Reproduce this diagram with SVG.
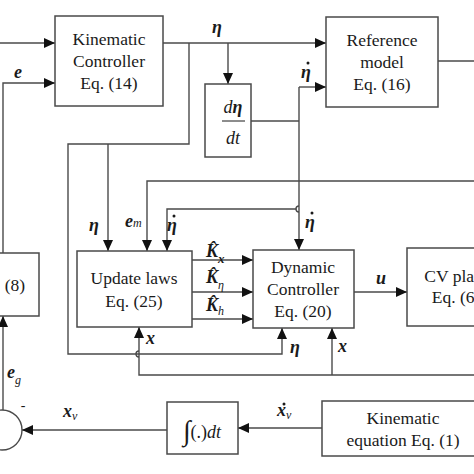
<svg xmlns="http://www.w3.org/2000/svg" width="474" height="474" viewBox="0 0 474 474">
<style>
text{font-family:"Liberation Serif","Times New Roman","DejaVu Serif",serif;fill:#1a1a1a}
.box{fill:#fff;stroke:#4a4a4a;stroke-width:1.5}
.ln{fill:none;stroke:#4a4a4a;stroke-width:1.4}
.t{font-size:17.5px;text-anchor:middle}
.m{font-size:18px;font-weight:bold;font-style:italic}
.s{font-size:12px;font-style:italic;font-weight:normal}
.sb{font-size:13px;font-style:italic;font-weight:bold}
.dot{fill:#1a1a1a}
</style>
<defs>
<marker id="ar" markerUnits="userSpaceOnUse" markerWidth="12" markerHeight="10" refX="11" refY="5" orient="auto">
<path d="M0,0 L11,5 L0,10 z" fill="#111"/>
</marker>
</defs>
<g id="connectors">
<path class="ln" d="M0,43 H55" marker-end="url(#ar)"/>
<path class="ln" d="M3,253 V83 H55" marker-end="url(#ar)"/>
<path class="ln" d="M163,43 H326" marker-end="url(#ar)"/>
<path class="ln" d="M228,43 V84" marker-end="url(#ar)"/>
<path class="ln" d="M189,43 V144 H68 V354 H282 V328" marker-end="url(#ar)"/>
<path class="ln" d="M108,144 V251" marker-end="url(#ar)"/>
<path class="ln" d="M251,121 H299"/>
<path class="ln" d="M299,87 H326" marker-end="url(#ar)"/>
<path class="ln" d="M299,87 V250" marker-end="url(#ar)"/>
<path class="ln" d="M474,181 H147 V251" marker-end="url(#ar)"/>
<path class="ln" d="M296,209 H167 V251" marker-end="url(#ar)"/>
<path class="ln" d="M299,206 A3,3 0 0 0 299,212"/>
<path class="ln" d="M192,260 H253" marker-end="url(#ar)"/>
<path class="ln" d="M192,292 H253" marker-end="url(#ar)"/>
<path class="ln" d="M192,319 H253" marker-end="url(#ar)"/>
<path class="ln" d="M354,292 H407" marker-end="url(#ar)"/>
<path class="ln" d="M474,375 H139 V327" marker-end="url(#ar)"/>
<path class="ln" d="M139,351 A3,3 0 0 0 139,357"/>
<path class="ln" d="M332,375 V328" marker-end="url(#ar)"/>
<path class="ln" d="M438,61 H474"/>
<path class="ln" d="M3,410 V316" marker-end="url(#ar)"/>
<path class="ln" d="M167,430 H22" marker-end="url(#ar)"/>
<path class="ln" d="M322,428 H238" marker-end="url(#ar)"/>
</g>
<g id="kinematic-controller">
<rect class="box" x="55" y="16" width="108" height="90"/>
<text class="t" x="109" y="45">Kinematic</text>
<text class="t" x="109" y="67">Controller</text>
<text class="t" x="109" y="89">Eq. (14)</text>
</g>
<g id="reference-model">
<rect class="box" x="326" y="17" width="112" height="90"/>
<text class="t" x="382" y="46">Reference</text>
<text class="t" x="382" y="68">model</text>
<text class="t" x="382" y="90">Eq. (16)</text>
</g>
<g id="derivative">
<rect class="box" x="205" y="84" width="46" height="73"/>
<text x="233" y="113" style="font-size:18px;font-style:italic;text-anchor:middle">d<tspan font-weight="bold">η</tspan></text>
<line x1="222" y1="121" x2="245" y2="121" stroke="#1a1a1a" stroke-width="1"/>
<text x="233" y="144" style="font-size:18px;font-style:italic;text-anchor:middle">dt</text>
</g>
<g id="update-laws">
<rect class="box" x="77" y="251" width="115" height="76"/>
<text class="t" x="134" y="284">Update laws</text>
<text class="t" x="134" y="307">Eq. (25)</text>
</g>
<g id="dynamic-controller">
<rect class="box" x="253" y="250" width="101" height="78"/>
<text class="t" x="303" y="273">Dynamic</text>
<text class="t" x="303" y="295">Controller</text>
<text class="t" x="303" y="317">Eq. (20)</text>
</g>
<g id="cv-plant">
<rect class="box" x="407" y="248" width="100" height="78"/>
<text class="t" x="456" y="282">CV plant</text>
<text class="t" x="456" y="303">Eq. (6)</text>
</g>
<g id="block-8">
<rect class="box" x="-40" y="253" width="79" height="63"/>
<text class="t" x="15" y="291">(8)</text>
</g>
<g id="sum">
<circle cx="2" cy="430" r="20" fill="#fff" stroke="#4a4a4a" stroke-width="1.4"/>
<text x="23" y="410" style="font-size:14px;text-anchor:middle">-</text>
</g>
<g id="integrator">
<rect class="box" x="167" y="402" width="71" height="52"/>
<text x="202" y="438" style="font-size:18px;text-anchor:middle"><tspan font-size="28" dy="2">∫</tspan><tspan dy="-2">(.)</tspan><tspan font-style="italic">dt</tspan></text>
</g>
<g id="kinematic-equation">
<rect class="box" x="322" y="401" width="162" height="55"/>
<text class="t" x="403" y="424">Kinematic</text>
<text class="t" x="403" y="446">equation Eq. (1)</text>
</g>
<g id="labels">
<text class="m" x="14" y="78">e</text>
<text class="m" x="212" y="33">η</text>
<text class="m" x="301" y="78">η</text><circle class="dot" cx="308" cy="63" r="1.5"/>
<text class="m" x="89" y="231">η</text>
<text class="m" x="125" y="227">e<tspan class="s" font-size="14">m</tspan></text>
<text class="m" x="167" y="231">η</text><circle class="dot" cx="174" cy="216" r="1.5"/>
<text class="m" x="305" y="228">η</text><circle class="dot" cx="312" cy="213" r="1.5"/>
<text class="m" x="206" y="257">K̂<tspan class="sb" dy="6">x</tspan></text>
<text class="m" x="206" y="283">K̂<tspan class="s" dy="6">η</tspan></text>
<text class="m" x="206" y="311">K̂<tspan class="s" dy="4">h</tspan></text>
<text class="m" x="376" y="284">u</text>
<text class="m" x="146" y="344">x</text>
<text class="m" x="290" y="353">η</text>
<text class="m" x="338" y="352">x</text>
<text class="m" x="7" y="378">e<tspan class="s" dy="6">g</tspan></text>
<text class="m" x="63" y="417">x<tspan class="s" dy="3">v</tspan></text>
<text class="m" x="277" y="416">x<tspan class="s" dy="3">v</tspan></text><circle class="dot" cx="284" cy="404" r="1.5"/>
</g>
</svg>
